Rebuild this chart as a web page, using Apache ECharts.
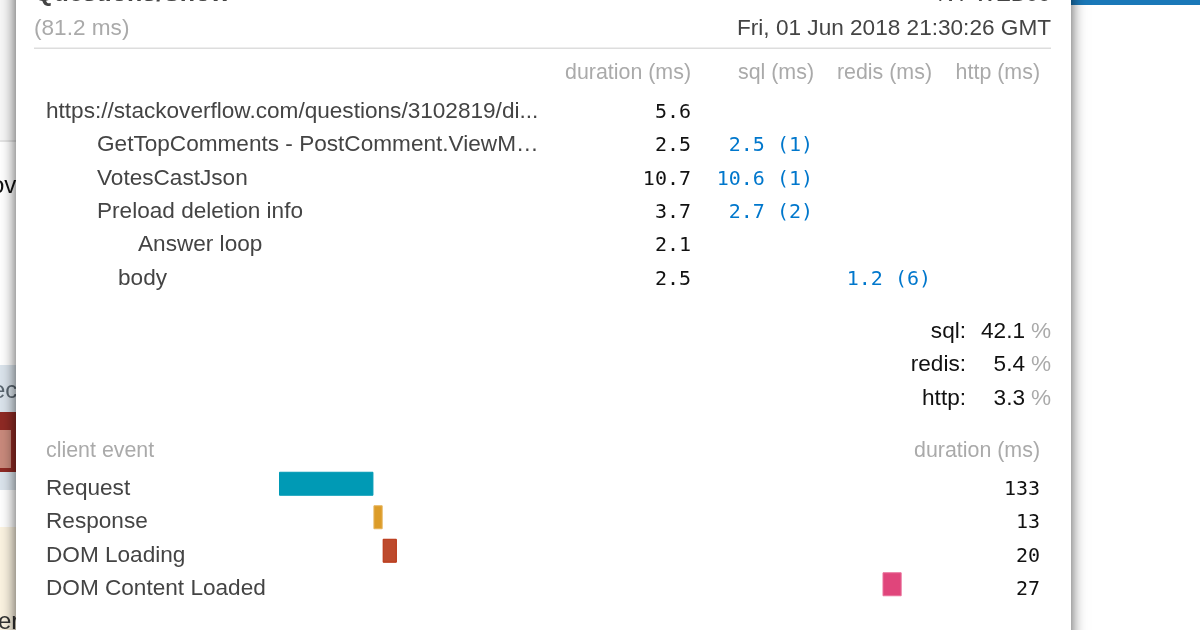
<!DOCTYPE html>
<html>
<head>
<meta charset="utf-8">
<title>Timings</title>
<script src="https://cdn.jsdelivr.net/npm/echarts@6/dist/echarts.min.js"></script>
<style>
html, body { margin: 0; padding: 0; background: #fff; }
#main { width: 1200px; height: 630px; }
</style>
</head>
<body>
<div id="main"></div>
<script>
// server timings
var stepNames = [
    'https://stackoverflow.com/questions/3102819/di...',
    'GetTopComments - PostComment.ViewM\u2026',
    'VotesCastJson',
    'Preload deletion info',
    'Answer loop',
    'body'
];
var stepDurations = ['5.6', '2.5', '10.7', '3.7', '2.1', '2.5'];
var stepSql = ['', '2.5 (1)', '10.6 (1)', '2.7 (2)', '', ''];
var stepRedis = ['', '', '', '', '', '1.2 (6)'];
var tableHeaders = ['duration (ms)', 'sql (ms)', 'redis (ms)', 'http (ms)'];

var summaryNames = ['sql:', 'redis:', 'http:'];
var summaryPercents = ['42.1', '5.4', '3.3'];

// client timings
var eventNames = ['Request', 'Response', 'DOM Loading', 'DOM Content Loaded'];
var eventStarts = [0, 133, 146, 850];
var eventDurations = [133, 13, 20, 27];

// layout
var stepIndents = [46, 97, 97, 97, 138, 118];
var headerRights = [691, 814, 932, 1040];
var eventColors = ['#009ab5', '#dc9c28', '#bd4a2d', '#e0457b'];
var eventBorders = ['#009ab5', '#e6b45c', '#b8300f', '#ea6f9a'];

var sans = '"Liberation Sans", Arial, sans-serif';
var mono = '"DejaVu Sans Mono", monospace';

function txt(x, y, text, color, align, size, family, weight, z) {
    return {
        type: 'text',
        x: x,
        y: y,
        z: z === undefined ? 5 : z,
        style: {
            text: text,
            fill: color,
            align: align || 'left',
            verticalAlign: 'middle',
            font: (weight || 'normal') + ' ' + (size || 22.6) + 'px ' + (family || sans)
        }
    };
}

function box(x, y, w, h, fill, z, extra) {
    var style = { fill: fill };
    for (var k in extra) style[k] = extra[k];
    return { type: 'rect', z: z, shape: { x: x, y: y, width: w, height: h }, style: style };
}

var gfx = [
    // page behind the popup
    box(0, 0, 16, 140, '#f7f7f7', -3),
    box(0, 140, 16, 2, '#e4e4e4', -3),
    box(0, 365, 16, 125, '#dbe4ec', -3),
    box(0, 412, 16, 60, '#8f2a24', -3),
    box(0, 430, 11, 38, '#c98a7c', -3),
    box(0, 527, 16, 103, '#fbf3e1', -3),
    box(1071, 0, 129, 5, '#1a78b8', -3),
    txt(-9, 186, 'ov', '#111', 'left', 24, sans, 'normal', -2),
    txt(-8, 391, 'ec', '#5a6670', 'left', 24, sans, 'normal', -2),
    txt(-2, 622, 'er', '#333', 'left', 24, sans, 'normal', -2),
    // popup panel
    box(16, -20, 1055, 680, '#fff', -1, { shadowBlur: 14, shadowColor: 'rgba(0,0,0,0.7)' }),
    box(34, 47.5, 1017, 1.5, '#dddddd', 2),
    txt(34, -6, 'Questions/Show', '#444', 'left', 25, sans, 'bold'),
    txt(1051, -5, 'NY-WEB09', '#444', 'right', 22.6),
    txt(34, 28.5, '(81.2 ms)', '#aaa', 'left', 22.6),
    txt(1051, 28.5, 'Fri, 01 Jun 2018 21:30:26 GMT', '#444', 'right', 22.6),
    txt(46, 451, 'client event', '#aaa', 'left', 21.4),
    txt(1040, 451, 'duration (ms)', '#aaa', 'right', 21.4)
];

tableHeaders.forEach(function(h, i) {
    gfx.push(txt(headerRights[i], 73, h, '#aaa', 'right', 21.4));
});

stepNames.forEach(function(name, i) {
    var y = 111.5 + 33.4 * i;
    gfx.push(txt(stepIndents[i], y, name, '#444', 'left'));
    gfx.push(txt(691, y + 1, stepDurations[i], '#111', 'right', 20, mono));
    if (stepSql[i]) gfx.push(txt(813, y + 1, stepSql[i], '#0077cc', 'right', 20, mono));
    if (stepRedis[i]) gfx.push(txt(931, y + 1, stepRedis[i], '#0077cc', 'right', 20, mono));
});

summaryNames.forEach(function(name, i) {
    var y = 332 + 33.2 * i;
    gfx.push(txt(966, y, name, '#111', 'right'));
    gfx.push(txt(1025, y, summaryPercents[i], '#111', 'right'));
    gfx.push(txt(1051, y, '%', '#aaa', 'right'));
});

var option = {
    animation: false,
    backgroundColor: '#fff',
    graphic: { elements: gfx },
    grid: { left: 279, top: 467, width: 710, height: 134 },
    xAxis: { type: 'value', min: 0, max: 1000, show: false },
    yAxis: [
        {
            type: 'category',
            inverse: true,
            data: eventNames,
            axisLine: { show: false },
            axisTick: { show: false },
            splitLine: { show: false },
            axisLabel: {
                interval: 0,
                align: 'left',
                verticalAlign: 'top',
                lineHeight: 10,
                margin: 233,
                color: '#444',
                fontFamily: sans,
                fontSize: 22.6
            }
        },
        {
            type: 'category',
            inverse: true,
            position: 'right',
            data: eventDurations,
            axisLine: { show: false },
            axisTick: { show: false },
            splitLine: { show: false },
            axisLabel: {
                interval: 0,
                align: 'right',
                verticalAlign: 'top',
                lineHeight: 12,
                margin: 51,
                color: '#111',
                fontFamily: mono,
                fontSize: 20
            }
        }
    ],
    series: [
        {
            name: 'start',
            type: 'bar',
            stack: 'events',
            silent: true,
            barWidth: 24,
            itemStyle: { color: 'transparent' },
            data: eventStarts
        },
        {
            name: 'duration',
            type: 'bar',
            stack: 'events',
            barWidth: 24,
            data: eventDurations.map(function(v, i) {
                return {
                    value: v,
                    itemStyle: { color: eventColors[i], borderColor: eventBorders[i], borderWidth: 1 }
                };
            })
        }
    ]
};

var chart = echarts.init(document.getElementById('main'), null, { renderer: 'canvas' });
chart.setOption(option);
</script>
</body>
</html>
